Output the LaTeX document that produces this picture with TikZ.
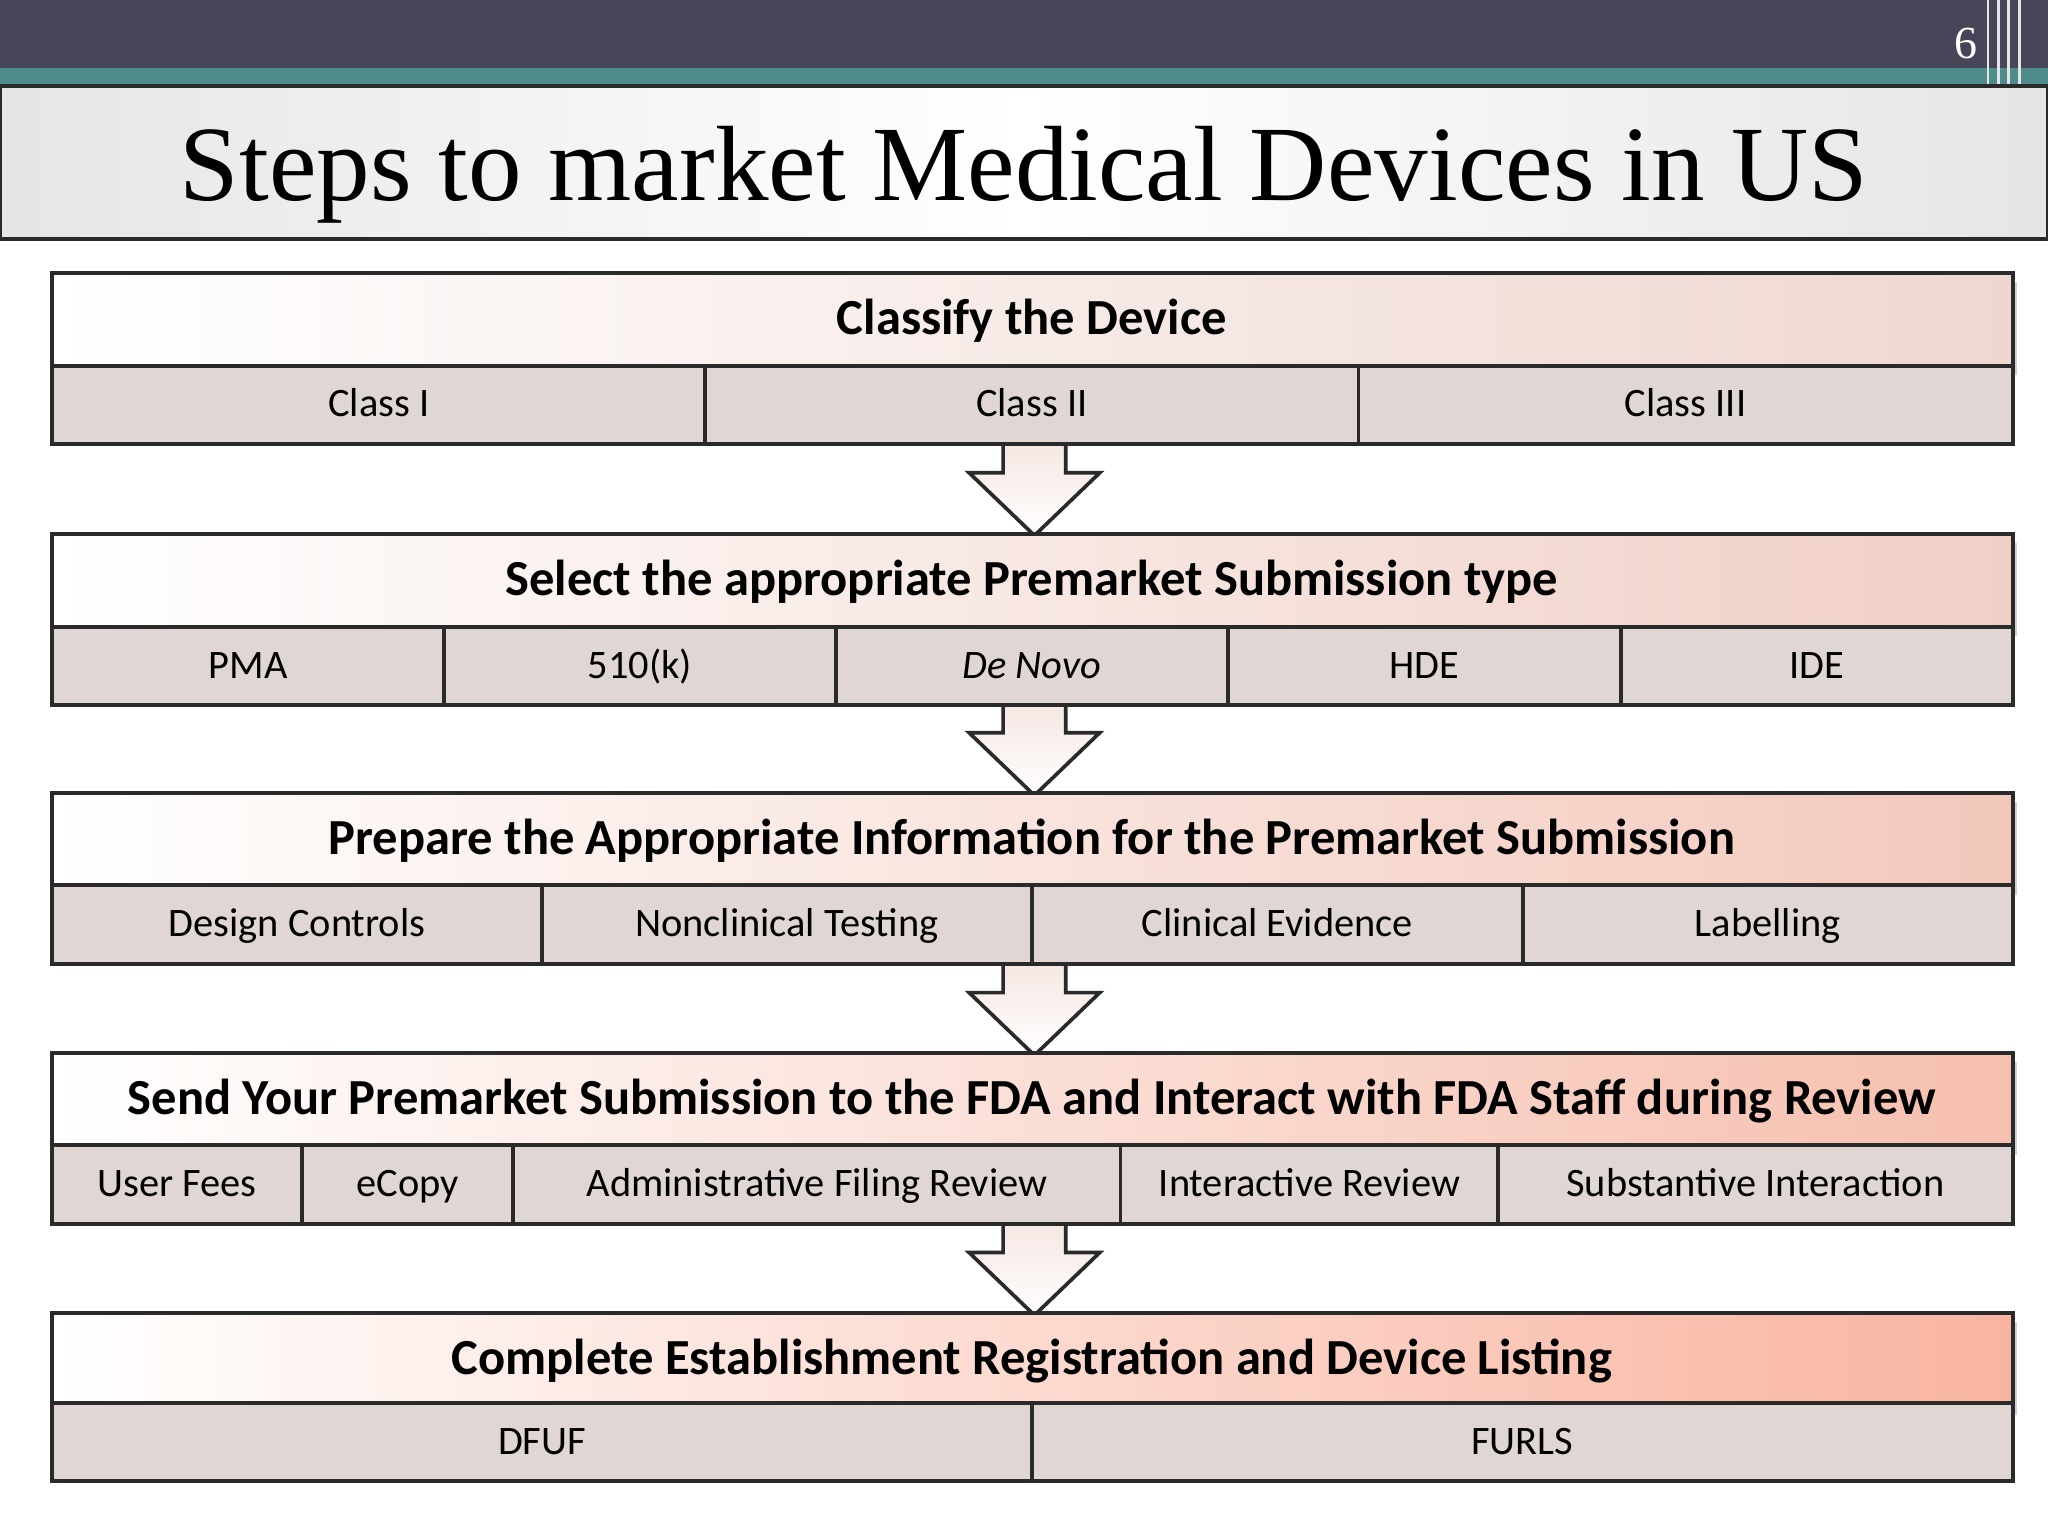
\documentclass[tikz,border=0pt]{standalone}
\usepackage{fontspec}
\setmainfont{Carlito}[Ligatures=TeX]
\newfontfamily\titlefont{Liberation Serif}
\usetikzlibrary{shadows}
\definecolor{topbar}{HTML}{474658}
\definecolor{teal}{HTML}{4F8C8C}
\definecolor{rowfill}{HTML}{E0D6D4}
\definecolor{edge}{HTML}{2A2A2A}
\definecolor{hA}{HTML}{EFD7D0}
\definecolor{hB}{HTML}{F0CFC6}
\definecolor{hC}{HTML}{F3C8BB}
\definecolor{hD}{HTML}{F6BFAE}
\definecolor{hE}{HTML}{F9B4A0}
\tikzset{
  hdr/.style={draw=edge,line width=0.9pt,drop shadow={opacity=0.35,shadow xshift=1pt,shadow yshift=-2pt}},
  cell/.style={draw=edge,line width=0.8pt,fill=rowfill},
  htext/.style={font=\fontsize{11}{13}\selectfont\bfseries,text height=8pt,text depth=2.2pt},
  ctext/.style={font=\fontsize{8.8}{10}\selectfont,text height=6.5pt,text depth=1.8pt},
  arr/.style={draw=edge,line width=0.8pt,top color=hA!60!white,bottom color=white}
}
\begin{document}
\begin{tikzpicture}[x=0.01cm,y=-0.01cm]
\useasboundingbox (0,0) rectangle (1568,1176);
\fill[white] (0,0) rectangle (1568,1176);
\fill[topbar] (0,0) rectangle (1568,52);
\fill[teal] (0,52) rectangle (1568,64);
\foreach \x in {1522,1530,1538,1546} \draw[white!80!gray,line width=0.6pt] (\x,0) -- (\x,64);
\node[white,font=\fontsize{10}{12}\selectfont\titlefont] (pg) at (1505,33) {6};
\shade[left color=white!80!gray,right color=white!80!gray,middle color=white,draw=edge,line width=0.8pt] (0,66) rectangle (1568,183);
\node[font=\fontsize{23.3}{28}\selectfont\titlefont] (title) at (784,134) {Steps to market Medical Devices in US};
\foreach \y/\n in {340/a1,539/a2,738/a3,937/a4}{
  \path[arr] (768,\y) -- (816,\y) -- (816,\y+22) -- (842,\y+22) -- (792,\y+70) -- (742,\y+22) -- (768,\y+22) -- cycle;
  \coordinate (\n) at (792,\y+35);
}
\newcommand\mybox[4]{%
  \shade[hdr,left color=white,right color=#2] (40,#1) rectangle (1541,#1+71);
  \node[htext] (#4) at (790,#1+37) {#3};
}
\mybox{209}{hA}{Classify the Device}{h1}
\mybox{409}{hB}{Select the appropriate Premarket Submission type}{h2}
\mybox{607}{hC}{Prepare the Appropriate Information for the Premarket Submission}{h3}
\mybox{806}{hD}{Send Your Premarket Submission to the FDA and Interact with FDA Staff during Review}{h4}
\mybox{1005}{hE}{Complete Establishment Registration and Device Listing}{h5}
\newcommand\mycells[2]{%
  \foreach \a/\b/\t/\nm in {#2}{
    \draw[cell] (\a,#1) rectangle (\b,#1+60);
    \node[ctext] (\nm) at ({(\a+\b)/2},#1+31) {\t};
  }
}
\mycells{280}{40/540/Class I/c11,540/1040/Class II/c12,1040/1541/Class III/c13}
\mycells{480}{40/340/PMA/c21,340/640/510(k)/c22,640/940/\textit{De Novo}/c23,940/1241/HDE/c24,1241/1541/IDE/c25}
\mycells{678}{40/415/Design Controls/c31,415/790/Nonclinical Testing/c32,790/1166/Clinical Evidence/c33,1166/1541/Labelling/c34}
\mycells{877}{40/231/User Fees/c41,231/393/eCopy/c42,393/858/Administrative Filing Review/c43,858/1147/Interactive Review/c44,1147/1541/Substantive Interaction/c45}
\mycells{1074}{40/790/DFUF/c51,790/1541/FURLS/c52}
\end{tikzpicture}
\end{document}
